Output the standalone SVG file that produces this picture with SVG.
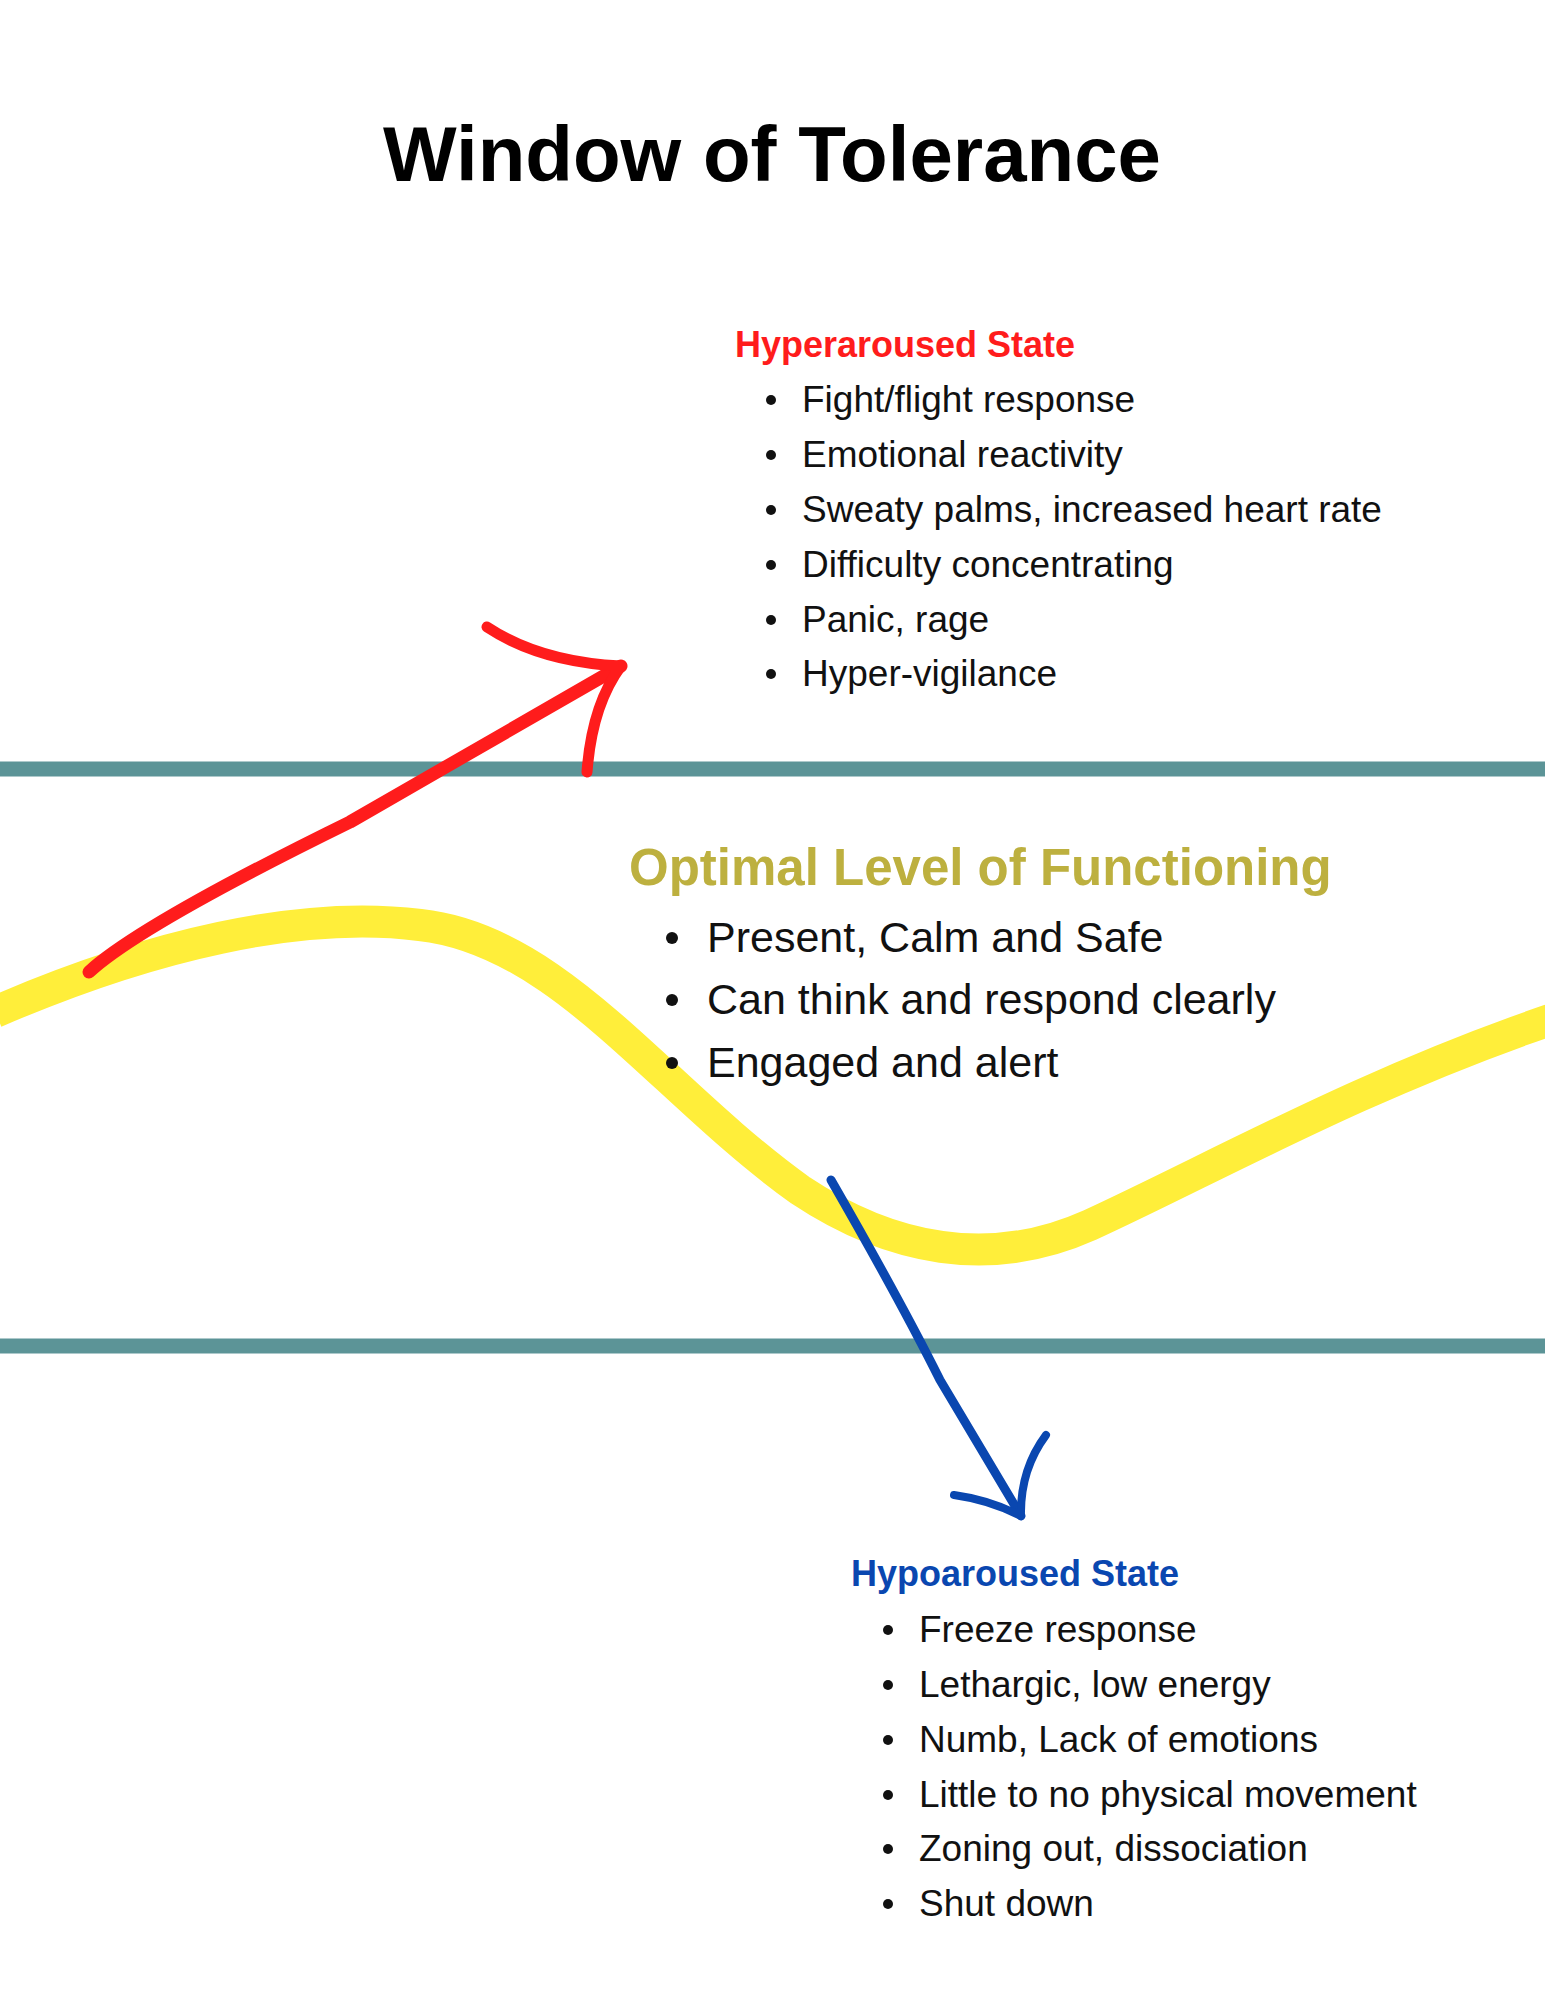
<svg xmlns="http://www.w3.org/2000/svg" width="1545" height="2000" viewBox="0 0 1545 2000">
<style>
text{font-family:"Liberation Sans","Noto Sans",sans-serif;fill:#111}
.h{font-weight:bold;font-size:36px}
.b{font-size:37px}
.o{font-size:43px}
.line{stroke:#5c9497;stroke-width:15}
.arr{fill:none;stroke-linecap:round;stroke-linejoin:round}
</style>
<rect width="1545" height="2000" fill="#fff"/>
<g id="title"><text x="772" y="181" text-anchor="middle" font-size="78" font-weight="900" style="fill:#000">Window of Tolerance</text></g>
<g id="bands"><line class="line" x1="0" y1="769" x2="1545" y2="769"/><line class="line" x1="0" y1="1346" x2="1545" y2="1346"/></g>
<g id="wave"><path d="M-5,1012 C150,945 300,910 420,925 C560,940 660,1090 800,1190 C890,1250 990,1270 1090,1225 C1210,1170 1360,1085 1550,1020" fill="none" stroke="#ffee3a" stroke-width="32"/></g>
<g id="connectors">
<path class="arr" d="M89,972 Q140,925 350,822 L621,666" stroke="#ff1c1c" stroke-width="13"/>
<path class="arr" d="M487,627 Q540,662 621,666 Q592,705 587,772" stroke="#ff1c1c" stroke-width="11"/>
<path class="arr" d="M831,1180 Q900,1300 940,1380 L1021,1516" stroke="#0a47b0" stroke-width="9"/>
<path class="arr" d="M954,1495 Q990,1500 1021,1516 Q1020,1470 1046,1435" stroke="#0a47b0" stroke-width="8"/>
</g>
<g id="hyper">
<text x="735" y="357" class="h" style="fill:#ff1c1c">Hyperaroused State</text>
<g class="b">
<circle cx="771" cy="400" r="5" fill="#111"/><text x="802" y="412" class="b">Fight/flight response</text>
<circle cx="771" cy="455" r="5" fill="#111"/><text x="802" y="467" class="b">Emotional reactivity</text>
<circle cx="771" cy="510" r="5" fill="#111"/><text x="802" y="522" class="b">Sweaty palms, increased heart rate</text>
<circle cx="771" cy="565" r="5" fill="#111"/><text x="802" y="577" class="b">Difficulty concentrating</text>
<circle cx="771" cy="620" r="5" fill="#111"/><text x="802" y="632" class="b">Panic, rage</text>
<circle cx="771" cy="674" r="5" fill="#111"/><text x="802" y="686" class="b">Hyper-vigilance</text>
</g></g>
<g id="optimal">
<text x="629" y="885" font-size="51" font-weight="bold" style="fill:#bdb03f">Optimal Level of Functioning</text>
<circle cx="672" cy="938" r="6" fill="#111"/><text x="707" y="952" class="o">Present, Calm and Safe</text>
<circle cx="672" cy="1000" r="6" fill="#111"/><text x="707" y="1014" class="o">Can think and respond clearly</text>
<circle cx="672" cy="1063" r="6" fill="#111"/><text x="707" y="1077" class="o">Engaged and alert</text>
</g>
<g id="hypo">
<text x="851" y="1586" class="h" style="fill:#0a47b0">Hypoaroused State</text>
<circle cx="888" cy="1630" r="5" fill="#111"/><text x="919" y="1642" class="b">Freeze response</text>
<circle cx="888" cy="1685" r="5" fill="#111"/><text x="919" y="1697" class="b">Lethargic, low energy</text>
<circle cx="888" cy="1740" r="5" fill="#111"/><text x="919" y="1752" class="b">Numb, Lack of emotions</text>
<circle cx="888" cy="1795" r="5" fill="#111"/><text x="919" y="1807" class="b">Little to no physical movement</text>
<circle cx="888" cy="1849" r="5" fill="#111"/><text x="919" y="1861" class="b">Zoning out, dissociation</text>
<circle cx="888" cy="1904" r="5" fill="#111"/><text x="919" y="1916" class="b">Shut down</text>
</g>
</svg>
